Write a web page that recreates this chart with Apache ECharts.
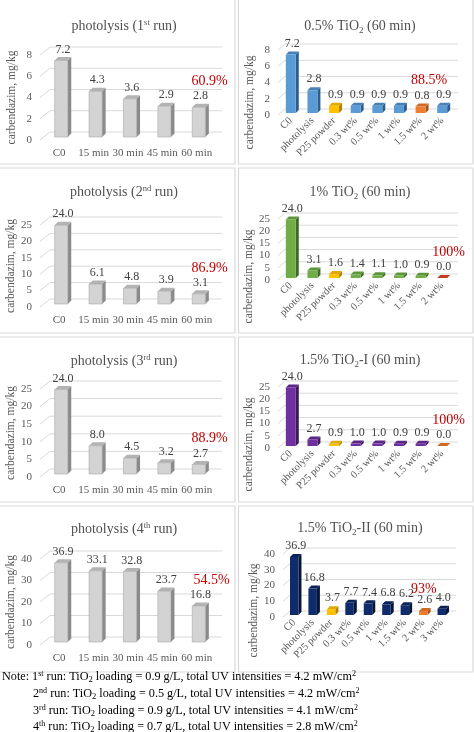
<!DOCTYPE html>
<html><head><meta charset="utf-8">
<script src="https://cdn.jsdelivr.net/npm/echarts@6/dist/echarts.min.js"></script>
<style>html,body{margin:0;padding:0;background:#fff}#c{width:474px;height:732px}</style>
</head><body><div id="c"></div><script>
const FONT = '"Liberation Serif", "Times New Roman", serif';

// ---------- data ----------
const timeCategories = ['C0', '15 min', '30 min', '45 min', '60 min'];
const catalystCategories = ['C0', 'photolysis', 'P25 powder', '0.3 wt%', '0.5 wt%', '1 wt%', '1.5 wt%', '2 wt%'];
const catalystCategoriesII = ['C0', 'photolysis', 'P25 powder', '0.3 wt%', '0.5 wt%', '1 wt%', '1.5 wt%', '2 wt%', '3 wt%'];

const run1Values = [7.2, 4.3, 3.6, 2.9, 2.8];
const run2Values = [24.0, 6.1, 4.8, 3.9, 3.1];
const run3Values = [24.0, 8.0, 4.5, 3.2, 2.7];
const run4Values = [36.9, 33.1, 32.8, 23.7, 16.8];
const tio2HalfValues = [7.2, 2.8, 0.9, 0.9, 0.9, 0.9, 0.8, 0.9];
const tio2OneValues = [24.0, 3.1, 1.6, 1.4, 1.1, 1.0, 0.9, 0.0];
const tio2OneHalfIValues = [24.0, 2.7, 0.9, 1.0, 1.0, 0.9, 0.9, 0.0];
const tio2OneHalfIIValues = [36.9, 16.8, 3.7, 7.7, 7.4, 6.8, 6.2, 2.6, 4.0];

const ticks8 = [0, 2, 4, 6, 8];
const ticks25 = [0, 5, 10, 15, 20, 25];
const ticks40 = [0, 10, 20, 30, 40];

const removalLabels = ['60.9%', '86.9%', '88.9%', '54.5%', '88.5%', '100%', '100%', '93%'];
const removalIndex = [4, 4, 4, 4, 6, 7, 7, 7];

const panelTitles = [
  'photolysis (1{sup|st} run)', 'photolysis (2{sup|nd} run)',
  'photolysis (3{sup|rd} run)', 'photolysis (4{sup|th} run)',
  '0.5% TiO{sub|2} (60 min)', '1% TiO{sub|2} (60 min)',
  '1.5% TiO{sub|2}-I (60 min)', '1.5% TiO{sub|2}-II (60 min)'
];
const yAxisTitle = 'carbendazim, mg/kg';

const runOrdinals = ['st', 'nd', 'rd', 'th'];
const runLoadings = ['0.9', '0.5', '0.9', '0.7'];
const runUV = ['4.2', '4.2', '4.1', '2.8'];

// ---------- styles ----------
const C = {
  grey:   {front: '#d3d3d3', side: '#8a8a8a', top: '#b3b3b3', stroke: '#a8a8a8'},
  blue:   {front: '#5b9bd5', side: '#2e5e8c', top: '#4680b8'},
  yellow: {front: '#ffc000', side: '#b08400', top: '#e0a800'},
  orange: {front: '#ed7d31', side: '#a4511a', top: '#d06a25'},
  red:    {front: '#d4492a', side: '#8c2c17', top: '#c03e20'},
  green:  {front: '#70ad47', side: '#40692a', top: '#5c9639'},
  purple: {front: '#7030a0', side: '#3d1959', top: '#5b2787'},
  navy:   {front: '#0f2b6b', side: '#061436', top: '#0a2258'}
};

const LBAR = {ratio: 0.38, d: [3.5, 3.5], off: [2, -3]};
const RBAR = {ratio: 0.46, d: [3, 3], off: [0, -2]};

const panels = [
  {cats: timeCategories, vals: run1Values, ticks: ticks8, gl: 42, gw: 172, gt: 55, gb: 140, tx: 119, ty: 22, wd: [8, 8], bar: LBAR, base: C.grey, hl: {}, rot: 0, shift: 0, pctOff: [9, -15]},
  {cats: timeCategories, vals: run2Values, ticks: ticks25, gl: 42, gw: 172, gt: 225, gb: 307, tx: 119, ty: 188, wd: [8, 8], bar: LBAR, base: C.grey, hl: {}, rot: 0, shift: 0, pctOff: [9, -15]},
  {cats: timeCategories, vals: run3Values, ticks: ticks25, gl: 42, gw: 172, gt: 389, gb: 477, tx: 119, ty: 357, wd: [8, 8], bar: LBAR, base: C.grey, hl: {}, rot: 0, shift: 0, pctOff: [9, -15]},
  {cats: timeCategories, vals: run4Values, ticks: ticks40, gl: 42, gw: 172, gt: 559, gb: 645, tx: 119, ty: 525, wd: [8, 8], bar: LBAR, base: C.grey, hl: {}, rot: 0, shift: 0, pctOff: [11, -15]},
  {cats: catalystCategories, vals: tio2HalfValues, ticks: ticks8, gl: 280, gw: 173, gt: 50, gb: 115, tx: 355, ty: 22, wd: [5, 6], bar: RBAR, base: C.blue, hl: {2: C.yellow, 6: C.orange}, rot: 45, shift: 20, pctOff: [7, -15]},
  {cats: catalystCategories, vals: tio2OneValues, ticks: ticks25, gl: 280, gw: 173, gt: 219, gb: 280, tx: 355, ty: 188, wd: [5, 6], bar: RBAR, base: C.green, hl: {2: C.yellow, 7: C.red}, rot: 45, shift: 27, pctOff: [5, -15]},
  {cats: catalystCategories, vals: tio2OneHalfIValues, ticks: ticks25, gl: 280, gw: 173, gt: 387, gb: 448, tx: 355, ty: 356, wd: [5, 6], bar: RBAR, base: C.purple, hl: {2: C.yellow, 7: C.orange}, rot: 45, shift: 27, pctOff: [5, -15]},
  {cats: catalystCategoriesII, vals: tio2OneHalfIIValues, ticks: ticks40, gl: 285, gw: 166, gt: 554, gb: 617, tx: 355, ty: 524, wd: [5, 6], bar: RBAR, base: C.navy, hl: {2: C.yellow, 7: C.orange}, rot: 45, shift: 25, pctOff: [-1, -11]}
];

const richScript = {
  sup: {fontFamily: FONT, fontSize: 8.5, lineHeight: 9, verticalAlign: 'top', color: 'inherit'},
  sub: {fontFamily: FONT, fontSize: 9, lineHeight: 9, verticalAlign: 'bottom', color: 'inherit'}
};

function wallRenderer(p) {
  return function (params, api) {
    const cs = params.coordSys;
    const y = api.coord([0, api.value(1)])[1];
    const dx = p.wd[0], dy = p.wd[1];
    return {type: 'group', children: [
      {type: 'line', shape: {x1: cs.x + dx, y1: y - dy, x2: cs.x + cs.width + dx, y2: y - dy}, style: {stroke: '#d9d9d9', lineWidth: 1}},
      {type: 'line', shape: {x1: cs.x - 2, y1: y, x2: cs.x + dx, y2: y - dy}, style: {stroke: '#d9d9d9', lineWidth: 1}}
    ]};
  };
}

function txt(text, x, y, size, color) {
  return {type: 'text', style: {text: text, x: x, y: y, fill: color, fontSize: size, fontFamily: FONT,
    align: 'center', verticalAlign: 'middle', textAlign: 'center', textVerticalAlign: 'middle'}};
}

function barRenderer(p, k) {
  return function (params, api) {
    const i = api.value(0), v = api.value(1);
    const base = api.coord([i, 0]), top = api.coord([i, v]);
    const band = api.size([1, 0])[0];
    const w = band * p.bar.ratio;
    const ox = p.bar.off[0], oy = p.bar.off[1], dx = p.bar.d[0], dy = p.bar.d[1];
    const x0 = base[0] - w / 2 + ox, x1 = x0 + w, yb = base[1] + oy, yt = top[1] + oy;
    const c = p.hl[i] || p.base;
    const children = [
      {type: 'polygon', shape: {points: [[x1, yb], [x1, yt], [x1 + dx, yt - dy], [x1 + dx, yb - dy]]}, style: {fill: c.side}},
      {type: 'polygon', shape: {points: [[x0, yt], [x1, yt], [x1 + dx, yt - dy], [x0 + dx, yt - dy]]}, style: {fill: c.top}},
      {type: 'rect', shape: {x: x0, y: yt, width: w, height: Math.max(0, yb - yt)}, style: {fill: c.front, stroke: c.stroke || null, lineWidth: c.stroke ? 0.6 : 0}}
    ];
    const lx = x0 + w / 2 + dx / 2, ly = yt - 11;
    children.push(txt(v.toFixed(1), lx, ly, 12, '#404040'));
    if (i === removalIndex[k]) {
      children.push(txt(removalLabels[k], lx + p.pctOff[0], ly + p.pctOff[1], 14, '#c00000'));
    }
    return {type: 'group', children: children};
  };
}

const grids = [], xAxes = [], yAxes = [], series = [], titles = [];
panels.forEach(function (p, k) {
  grids.push({left: p.gl, top: p.gt, width: p.gw, height: p.gb - p.gt});
  xAxes.push({type: 'category', gridIndex: k, data: p.cats,
    axisLine: {show: false}, axisTick: {show: false}, splitLine: {show: false},
    axisLabel: {interval: 0, rotate: p.rot, margin: p.rot ? 4 : 8, fontFamily: FONT, fontSize: p.rot ? 10.5 : 11, color: '#595959'}});
  yAxes.push({type: 'value', gridIndex: k, min: 0, max: p.ticks[p.ticks.length - 1], interval: p.ticks[1] - p.ticks[0],
    splitLine: {show: false}, axisLine: {show: false}, axisTick: {show: false},
    axisLabel: {margin: 10, fontFamily: FONT, fontSize: 11, color: '#595959'},
    name: yAxisTitle, nameLocation: 'middle', nameGap: 24,
    nameTextStyle: {fontFamily: FONT, fontSize: 11.5, color: '#595959', padding: [0, 2 * p.shift, 0, 0]}});
  series.push({type: 'custom', xAxisIndex: k, yAxisIndex: k, data: p.ticks.map(function (t) { return [0, t]; }),
    renderItem: wallRenderer(p), silent: true, clip: false, z: 1});
  series.push({type: 'custom', xAxisIndex: k, yAxisIndex: k, data: p.vals.map(function (v, i) { return [i, v]; }),
    renderItem: barRenderer(p, k), clip: false, z: 2});
  titles.push({text: panelTitles[k], left: p.tx, top: p.ty - 9, textAlign: 'center',
    textStyle: {fontFamily: FONT, fontSize: 14, fontWeight: 'normal', color: '#505050', lineHeight: 17, rich: richScript}});
});

const graphics = [];
const rows = [[-1, 164], [168, 333], [337, 502], [506, 672]];
rows.forEach(function (r) {
  graphics.push({type: 'rect', shape: {x: -1, y: r[0], width: 236, height: r[1] - r[0]}, style: {fill: 'none', stroke: '#d9d9d9', lineWidth: 1.2}, z: -10});
  graphics.push({type: 'rect', shape: {x: 238.5, y: r[0], width: 234.5, height: r[1] - r[0]}, style: {fill: 'none', stroke: '#d9d9d9', lineWidth: 1.2}, z: -10});
});
const noteY = [677, 694, 711, 727];
const noteRich = {
  sup: {fontFamily: FONT, fontSize: 8, lineHeight: 9, verticalAlign: 'top', fill: '#000'},
  sub: {fontFamily: FONT, fontSize: 8.5, lineHeight: 9, verticalAlign: 'bottom', fill: '#000'}
};
runOrdinals.forEach(function (o, k) {
  const t = (k === 0 ? 'Note: ' : '') + (k + 1) + '{sup|' + o + '} run: TiO{sub|2} loading = ' + runLoadings[k] +
    ' g/L, total UV intensities = ' + runUV[k] + ' mW/cm{sup|2}';
  graphics.push({type: 'text', x: k === 0 ? 2 : 33, y: noteY[k],
    style: {text: t, fill: '#000', fontFamily: FONT, fontSize: 12.2, lineHeight: 15, verticalAlign: 'middle', rich: noteRich}});
});

const chart = echarts.init(document.getElementById('c'), null, {renderer: 'canvas'});
chart.setOption({
  animation: false,
  backgroundColor: '#fff',
  title: titles,
  grid: grids,
  xAxis: xAxes,
  yAxis: yAxes,
  series: series,
  graphic: graphics
});
</script></body></html>
